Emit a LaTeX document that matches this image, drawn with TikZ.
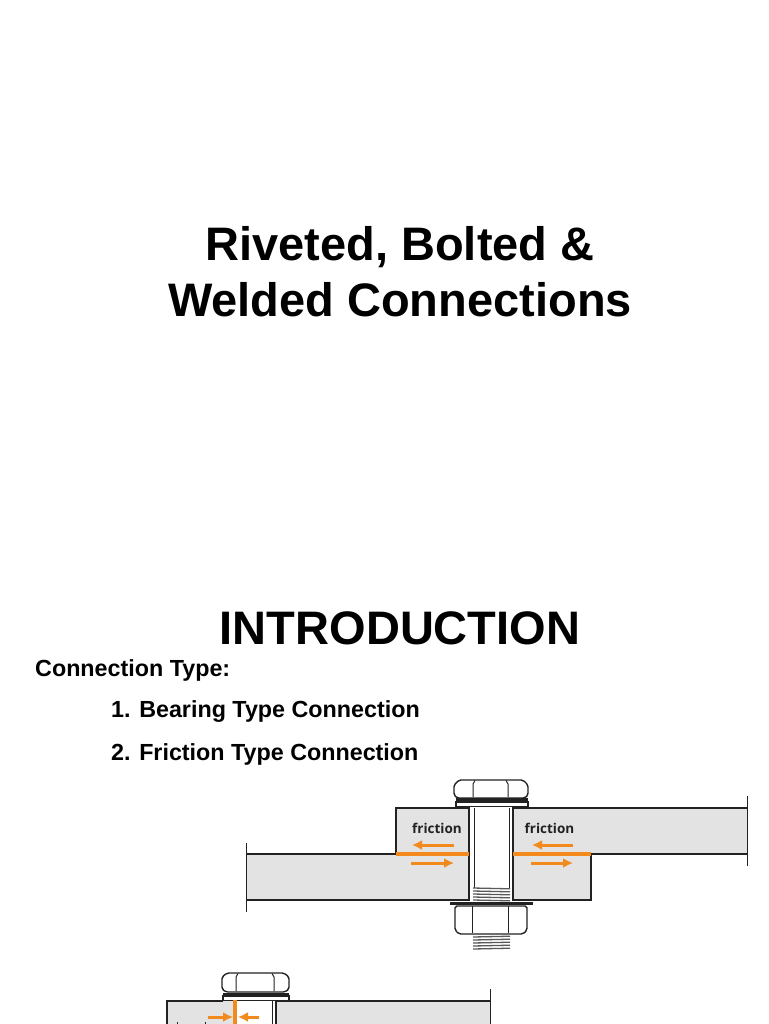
\documentclass[tikz,border=0pt]{standalone}
\usepackage{fontspec}
\setmainfont{Liberation Sans}
\newfontfamily\labelfont{Open Sans}
\usetikzlibrary{arrows.meta}
\definecolor{plate}{HTML}{E3E3E3}
\definecolor{fric}{HTML}{F28A1E}
\definecolor{ink}{HTML}{222222}
\tikzset{
  title/.style={font=\fontsize{47}{56}\selectfont\bfseries,align=center,text=black,inner sep=0pt},
  body/.style={font=\fontsize{23.3}{28}\selectfont\bfseries,anchor=west,text=black,inner sep=0pt},
  fr/.style={font=\labelfont\fontsize{13.5}{16}\selectfont\bfseries,text=ink,inner sep=0pt},
  platefill/.style={fill=plate,draw=none},
  ln/.style={draw=ink,line width=1.4pt},
  thinl/.style={draw=ink,line width=1pt},
  thread/.style={draw=ink!75,line width=1.3pt},
  band/.style={draw=ink,line width=2.4pt},
  farrow/.style={draw=fric,line width=3pt,-{Latex[length=10pt,width=10pt]}},
  fline/.style={draw=fric,line width=3.2pt},
}
\begin{document}
\begin{tikzpicture}[x=1pt,y=-1pt]
\useasboundingbox (0,0) rectangle (768,1024);
\fill[white] (0,0) rectangle (768,1024);
\node[title] (t1) at (400,272) {Riveted, Bolted \&\\Welded Connections};
\node[title] (t2) at (400,628) {INTRODUCTION};
\node[body] (b1) at (35,670) {Connection Type:};
\node[body] (b2) at (111,712) {1. Bearing Type Connection};
\node[body] (b3) at (111,754) {2. Friction Type Connection};
% upper bolted joint: plates
\fill[platefill] (246,854) -- (396,854) -- (396,808) -- (469,808) -- (469,900) -- (246,900) -- cycle;
\fill[platefill] (513,808) -- (747,808) -- (747,854) -- (591,854) -- (591,900) -- (513,900) -- cycle;
\draw[ln] (396,854) -- (246,854) (246,900) -- (469,900) -- (469,808) -- (396,808) -- (396,854);
\draw[ln] (747,808) -- (513,808) -- (513,900) -- (591,900) -- (591,854) -- (747,854);
\draw[thinl] (246,843) -- (246,912);
\draw[thinl] (747,796) -- (747,866);
% shank
\draw[thinl] (474,808) -- (474,888) (509,808) -- (509,888);
% threads
\foreach \y in {888,891,...,900} \draw[thread] (473,\y) -- (510,\y+0.8);
% head and washer
\draw[ln,fill=white,rounded corners=1.8pt] (454,785) -- (459,780) -- (523,780) -- (528,785) -- (528,795) -- (525,798) -- (457,798) -- (454,795) -- cycle;
\draw[thinl] (475,780.5) -- (473,784) -- (473,797) (506,780.5) -- (508,784) -- (508,797);
\draw[band] (456,799.5) -- (528,799.5);
\draw[ln,fill=white] (456,802) rectangle (528,806.5);
% nut and lower washer
\draw[ln,fill=white,rounded corners=1.8pt] (455,906) -- (527,906) -- (527,930) -- (523,934) -- (459,934) -- (455,930) -- cycle;
\draw[thinl] (472,906) -- (472,933) (508,906) -- (508,933);
\draw[band] (450,903.5) -- (533,903.5);
% bolt tip
\foreach \y in {937,940,...,949} \draw[thread] (473,\y) -- (510,\y-0.8);
% friction marks
\draw[fline] (396,854) -- (469,854);
\draw[fline] (513,854) -- (591,854);
\draw[farrow] (454,845) -- (412,845);
\draw[farrow] (411,863) -- (454,863);
\draw[farrow] (573,845) -- (532,845);
\draw[farrow] (531,863) -- (573,863);
\node[fr] (f1) at (437,828) {friction};
\node[fr] (f2) at (549.5,828) {friction};
% lower bolted joint, cut by the page edge
\fill[platefill] (167,1001) rectangle (235,1024);
\fill[platefill] (276,1001) rectangle (490,1024);
\draw[ln] (167,1024) -- (167,1001) -- (223,1001);
\draw[ln] (276,1024) -- (276,1001) -- (490,1001);
\draw[thinl] (272,1001) -- (272,1024);
\draw[thinl] (490,989) -- (490,1024);
\draw[ln,fill=white,rounded corners=1.8pt] (222,977) -- (227,973) -- (284,973) -- (289,977) -- (289,989) -- (285,992) -- (226,992) -- (222,989) -- cycle;
\draw[thinl] (238,973.5) -- (236,977) -- (236,991) (272,973.5) -- (274,977) -- (274,991);
\draw[band] (223,994) -- (289,994);
\draw[ln,fill=white] (223,996) rectangle (289,1000.5);
\draw[fline] (235,1000) -- (235,1024);
\draw[farrow] (208,1017) -- (233,1017);
\draw[farrow] (259,1017) -- (238,1017);
\draw[thinl] (177,1022) -- (177,1024) (205,1022) -- (205,1024);
\end{tikzpicture}
\end{document}
